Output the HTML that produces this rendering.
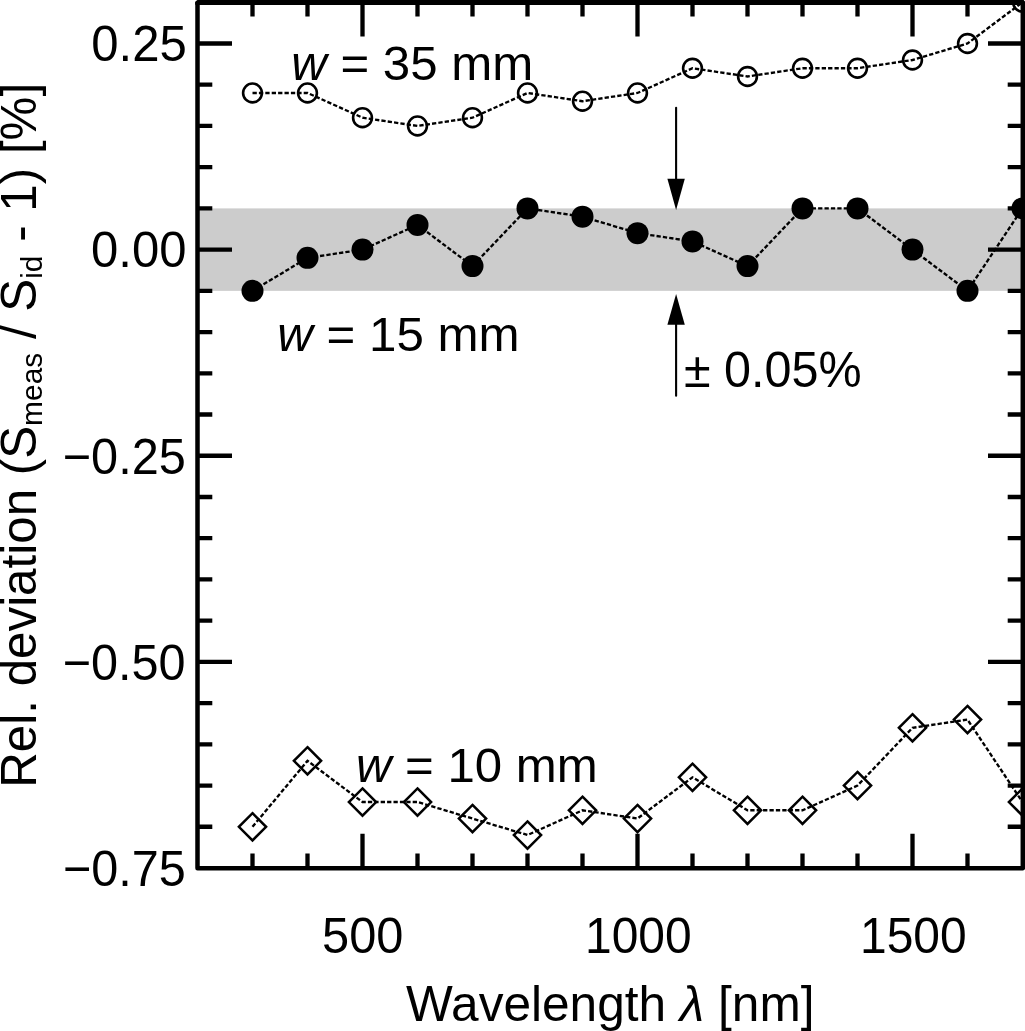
<!DOCTYPE html><html><head><meta charset="utf-8"><title>Relative deviation plot</title>
<style>html,body{margin:0;padding:0;background:#fff;}body{width:1025px;height:1031px;overflow:hidden;}svg{display:block;}text{font-family:"Liberation Sans",Arial,Helvetica,sans-serif;fill:#000;}</style></head><body>
<svg width="1025" height="1031" viewBox="0 0 1025 1031">
<rect x="197.5" y="208.4" width="825" height="82.45" fill="#cccccc"/>
<g>
<polyline points="252.5,92.97 307.5,92.97 362.5,117.7 417.5,125.95 472.5,117.7 527.5,92.97 582.5,101.22 637.5,92.97 692.5,68.23 747.5,76.48 802.5,68.23 857.5,68.23 912.5,59.99 967.5,43.5 1022.5,2.28" fill="none" stroke="#000" stroke-width="2.35" stroke-dasharray="4.3 2.1" />
<polyline points="252.5,290.85 307.5,257.87 362.5,249.62 417.5,224.89 472.5,266.12 527.5,208.4 582.5,216.64 637.5,233.14 692.5,241.38 747.5,266.12 802.5,208.4 857.5,208.4 912.5,249.62 967.5,290.85 1022.5,208.4" fill="none" stroke="#000" stroke-width="2.35" stroke-dasharray="4.3 2.1" />
<polyline points="252.5,826.77 307.5,760.81 362.5,802.04 417.5,802.04 472.5,818.53 527.5,835.02 582.5,810.29 637.5,818.53 692.5,777.31 747.5,810.29 802.5,810.29 857.5,785.55 912.5,727.83 967.5,719.59 1022.5,802.04" fill="none" stroke="#000" stroke-width="2.35" stroke-dasharray="4.3 2.1" />
</g>
<g fill="none" stroke="#000" stroke-width="2.6">
<circle cx="252.5" cy="92.97" r="9.4"/>
<circle cx="307.5" cy="92.97" r="9.4"/>
<circle cx="362.5" cy="117.7" r="9.4"/>
<circle cx="417.5" cy="125.95" r="9.4"/>
<circle cx="472.5" cy="117.7" r="9.4"/>
<circle cx="527.5" cy="92.97" r="9.4"/>
<circle cx="582.5" cy="101.22" r="9.4"/>
<circle cx="637.5" cy="92.97" r="9.4"/>
<circle cx="692.5" cy="68.23" r="9.4"/>
<circle cx="747.5" cy="76.48" r="9.4"/>
<circle cx="802.5" cy="68.23" r="9.4"/>
<circle cx="857.5" cy="68.23" r="9.4"/>
<circle cx="912.5" cy="59.99" r="9.4"/>
<circle cx="967.5" cy="43.5" r="9.4"/>
<circle cx="1022.5" cy="2.28" r="9.4"/>
</g>
<g fill="#000">
<circle cx="252.5" cy="290.85" r="11"/>
<circle cx="307.5" cy="257.87" r="11"/>
<circle cx="362.5" cy="249.62" r="11"/>
<circle cx="417.5" cy="224.89" r="11"/>
<circle cx="472.5" cy="266.12" r="11"/>
<circle cx="527.5" cy="208.4" r="11"/>
<circle cx="582.5" cy="216.64" r="11"/>
<circle cx="637.5" cy="233.14" r="11"/>
<circle cx="692.5" cy="241.38" r="11"/>
<circle cx="747.5" cy="266.12" r="11"/>
<circle cx="802.5" cy="208.4" r="11"/>
<circle cx="857.5" cy="208.4" r="11"/>
<circle cx="912.5" cy="249.62" r="11"/>
<circle cx="967.5" cy="290.85" r="11"/>
<circle cx="1022.5" cy="208.4" r="11"/>
</g>
<g fill="none" stroke="#000" stroke-width="2.5">
<path d="M252.5 813.17L266.1 826.77L252.5 840.38L238.9 826.77Z"/>
<path d="M307.5 747.21L321.1 760.81L307.5 774.41L293.9 760.81Z"/>
<path d="M362.5 788.44L376.1 802.04L362.5 815.64L348.9 802.04Z"/>
<path d="M417.5 788.44L431.1 802.04L417.5 815.64L403.9 802.04Z"/>
<path d="M472.5 804.93L486.1 818.53L472.5 832.13L458.9 818.53Z"/>
<path d="M527.5 821.42L541.1 835.02L527.5 848.62L513.9 835.02Z"/>
<path d="M582.5 796.69L596.1 810.29L582.5 823.89L568.9 810.29Z"/>
<path d="M637.5 804.93L651.1 818.53L637.5 832.13L623.9 818.53Z"/>
<path d="M692.5 763.71L706.1 777.31L692.5 790.91L678.9 777.31Z"/>
<path d="M747.5 796.69L761.1 810.29L747.5 823.89L733.9 810.29Z"/>
<path d="M802.5 796.69L816.1 810.29L802.5 823.89L788.9 810.29Z"/>
<path d="M857.5 771.95L871.1 785.55L857.5 799.15L843.9 785.55Z"/>
<path d="M912.5 714.23L926.1 727.83L912.5 741.43L898.9 727.83Z"/>
<path d="M967.5 705.99L981.1 719.59L967.5 733.19L953.9 719.59Z"/>
<path d="M1022.5 788.44L1036.1 802.04L1022.5 815.64L1008.9 802.04Z"/>
</g>
<path d="M197.5 826.77H212.3M1022.5 826.77H1007.7M197.5 785.55H212.3M1022.5 785.55H1007.7M197.5 744.32H212.3M1022.5 744.32H1007.7M197.5 703.1H212.3M1022.5 703.1H1007.7M197.5 661.88H232M1022.5 661.88H988M197.5 620.65H212.3M1022.5 620.65H1007.7M197.5 579.42H212.3M1022.5 579.42H1007.7M197.5 538.2H212.3M1022.5 538.2H1007.7M197.5 496.98H212.3M1022.5 496.98H1007.7M197.5 455.75H232M1022.5 455.75H988M197.5 414.52H212.3M1022.5 414.52H1007.7M197.5 373.3H212.3M1022.5 373.3H1007.7M197.5 332.07H212.3M1022.5 332.07H1007.7M197.5 290.85H212.3M1022.5 290.85H1007.7M197.5 249.62H232M1022.5 249.62H988M197.5 208.4H212.3M1022.5 208.4H1007.7M197.5 167.17H212.3M1022.5 167.17H1007.7M197.5 125.95H212.3M1022.5 125.95H1007.7M197.5 84.72H212.3M1022.5 84.72H1007.7M197.5 43.5H232M1022.5 43.5H988M252.5 868.25V853.45M252.5 2.75V16.6M307.5 868.25V853.45M307.5 2.75V16.6M362.5 868.25V833.75M362.5 2.75V36.5M417.5 868.25V853.45M417.5 2.75V16.6M472.5 868.25V853.45M472.5 2.75V16.6M527.5 868.25V853.45M527.5 2.75V16.6M582.5 868.25V853.45M582.5 2.75V16.6M637.5 868.25V833.75M637.5 2.75V36.5M692.5 868.25V853.45M692.5 2.75V16.6M747.5 868.25V853.45M747.5 2.75V16.6M802.5 868.25V853.45M802.5 2.75V16.6M857.5 868.25V853.45M857.5 2.75V16.6M912.5 868.25V833.75M912.5 2.75V36.5M967.5 868.25V853.45M967.5 2.75V16.6" fill="none" stroke="#000" stroke-width="4.3"/>
<rect x="197.5" y="2.75" width="825.3" height="865.5" fill="none" stroke="#000" stroke-width="4.5" stroke-linejoin="round"/>
<path d="M195.2 2.3L197.5 0H1023.6L1025 1.4V4.85H195.2Z" fill="#000"/>
<g stroke="#000" stroke-width="2.1" stroke-linecap="round" fill="#000">
<line x1="676.1" y1="107.8" x2="676.1" y2="180"/>
<path d="M676.1 209.9L667.4 178.8L684.8000000000001 178.8Z" stroke="none"/>
<line x1="676.1" y1="323" x2="676.1" y2="395.7"/>
<path d="M676.1 294L667.4 324.8L684.8000000000001 324.8Z" stroke="none"/>
</g>
<text font-size="50.5" transform="translate(91.26 60.70) scale(0.9723 1)">0.25</text>
<text font-size="50.5" transform="translate(91.11 267.10) scale(0.9707 1)">0.00</text>
<text font-size="50.5" transform="translate(62.67 473.50) scale(0.9637 1)">−0.25</text>
<text font-size="50.5" transform="translate(62.68 679.50) scale(0.9621 1)">−0.50</text>
<text font-size="50.5" transform="translate(62.88 885.60) scale(0.9621 1)">−0.75</text>
<text font-size="50.5" transform="translate(322.07 953.20) scale(0.9663 1)">500</text>
<text font-size="50.5" transform="translate(585.00 953.20) scale(0.9500 1)">1000</text>
<text font-size="50.5" transform="translate(860.00 953.20) scale(0.9500 1)">1500</text>
<text font-size="49" transform="translate(291.19 80.10) scale(1.0047 1)"><tspan font-style="italic">w</tspan> = 35 mm</text>
<text font-size="49" transform="translate(277.29 351.30) scale(1.0055 1)"><tspan font-style="italic">w</tspan> = 15 mm</text>
<text font-size="49" transform="translate(355.89 781.80) scale(1.0034 1)"><tspan font-style="italic">w</tspan> = 10 mm</text>
<text font-size="50.5" transform="translate(683.98 386.90) scale(0.9608 1)">± 0.05%</text>
<text font-size="49.5" transform="translate(406.10 1020.70) scale(1.0020 1)">Wavelength <tspan font-style="italic">λ</tspan> [nm]</text>
<text font-size="49.5" transform="translate(35.80 787.79) rotate(-90) scale(0.9967 1)">Rel. deviation (S<tspan font-size="30" dy="6">meas</tspan><tspan dy="-6"> / S</tspan><tspan font-size="30" dy="6">id</tspan><tspan dy="-6"> - 1) [%]</tspan></text>
</svg></body></html>
